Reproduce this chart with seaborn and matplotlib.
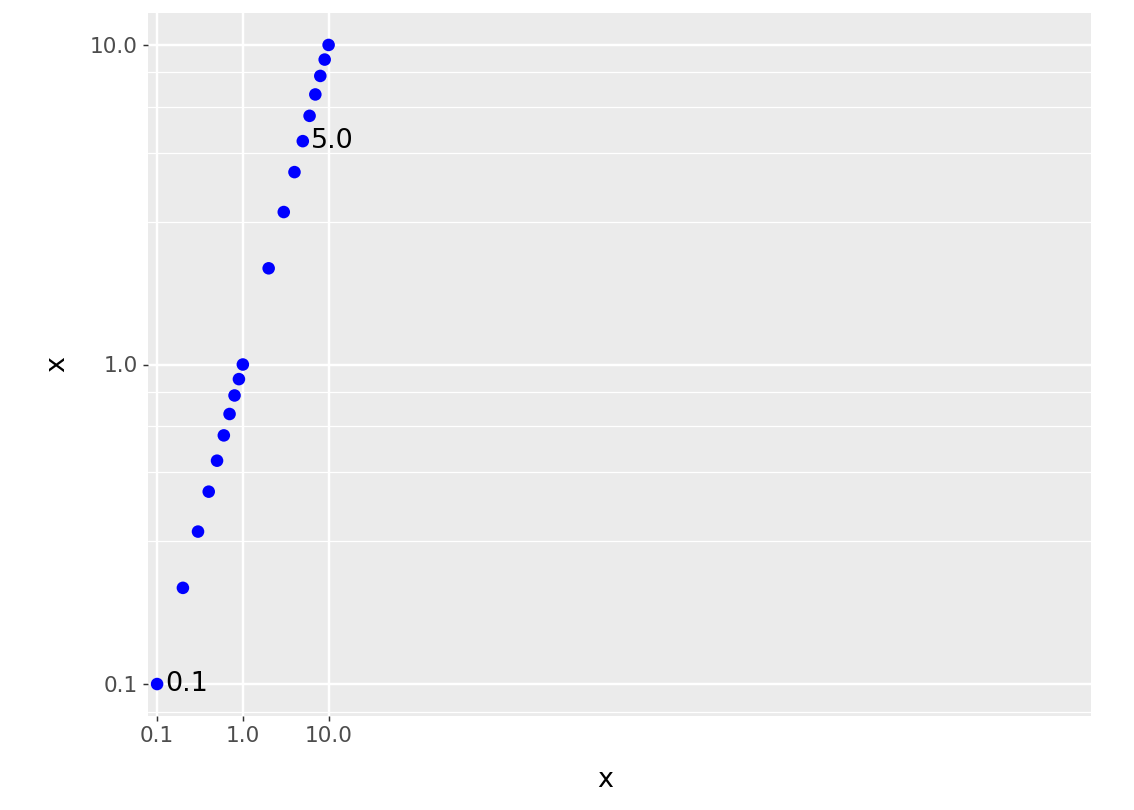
import matplotlib
matplotlib.use("Agg")
import matplotlib.pyplot as plt
import matplotlib.ticker as mticker
import pandas as pd
import seaborn as sns

# data: points lying on y = x, two of them labelled
x_vals = [0.1, 0.2, 0.3, 0.4, 0.5, 0.6, 0.7, 0.8, 0.9, 1.0,
          2.0, 3.0, 4.0, 5.0, 6.0, 7.0, 8.0, 9.0, 10.0]
label_vals = [0.1, 5.0]
label_text = ["0.1", "5.0"]
major_breaks = [0.1, 1.0, 10.0]
y_minor_breaks = [0.082, 0.28, 0.46, 0.64, 0.82, 2.8, 4.6, 6.4, 8.2]

df = pd.DataFrame({"x": x_vals})

DPI = 1134 / 6.4
sns.set_theme(style="darkgrid", rc={
    "axes.facecolor": "#EBEBEB",
    "grid.color": "white",
    "axes.edgecolor": "#EBEBEB",
})
plt.rcParams["font.family"] = ["DejaVu Sans"]

fig = plt.figure(figsize=(6.4, 810 / DPI), dpi=DPI)
ax = fig.add_axes([148 / 1134, 1 - 716 / 810, (1091 - 148) / 1134, (716 - 13) / 810])

sns.scatterplot(data=df, x="x", y="x", ax=ax, color="blue", s=26,
                edgecolor="none", zorder=3)
for v, t in zip(label_vals, label_text):
    ax.annotate(t, (v, v), xytext=(3.5, 0), textcoords="offset points",
                ha="left", va="center", fontsize=11, color="black")

ax.set_xscale("log")
ax.set_yscale("log")
ax.set_xlim(10 ** -1.106, 10 ** 9.89)
ax.set_ylim(10 ** -1.1, 10 ** 1.1)

ax.xaxis.set_major_locator(mticker.FixedLocator(major_breaks))
ax.yaxis.set_major_locator(mticker.FixedLocator(major_breaks))
ax.xaxis.set_minor_locator(mticker.NullLocator())
ax.yaxis.set_minor_locator(mticker.FixedLocator(y_minor_breaks))
fmt = mticker.FuncFormatter(lambda v, p: f"{v:.1f}")
ax.xaxis.set_major_formatter(fmt)
ax.yaxis.set_major_formatter(fmt)
ax.yaxis.set_minor_formatter(mticker.NullFormatter())

ax.grid(which="major", color="white", linewidth=1.0)
ax.grid(which="minor", axis="y", color="white", linewidth=0.5)
ax.tick_params(which="major", length=2.2, width=0.6, color="#333333",
               labelsize=8.8, labelcolor="#4D4D4D", pad=2, bottom=True, left=True)
ax.tick_params(which="minor", length=0)

for s in ax.spines.values():
    s.set_visible(False)

ax.set_xlabel("x", fontsize=11, color="black")
ax.set_ylabel("x", fontsize=11, color="black")
ax.xaxis.label.set_va("center")
ax.yaxis.label.set_va("center")
ax.xaxis.set_label_coords((605 - 148) / 943, (716 - 780) / 703)
ax.yaxis.set_label_coords((57 - 148) / 943, 0.5)

fig.savefig("out.png", dpi=DPI)
